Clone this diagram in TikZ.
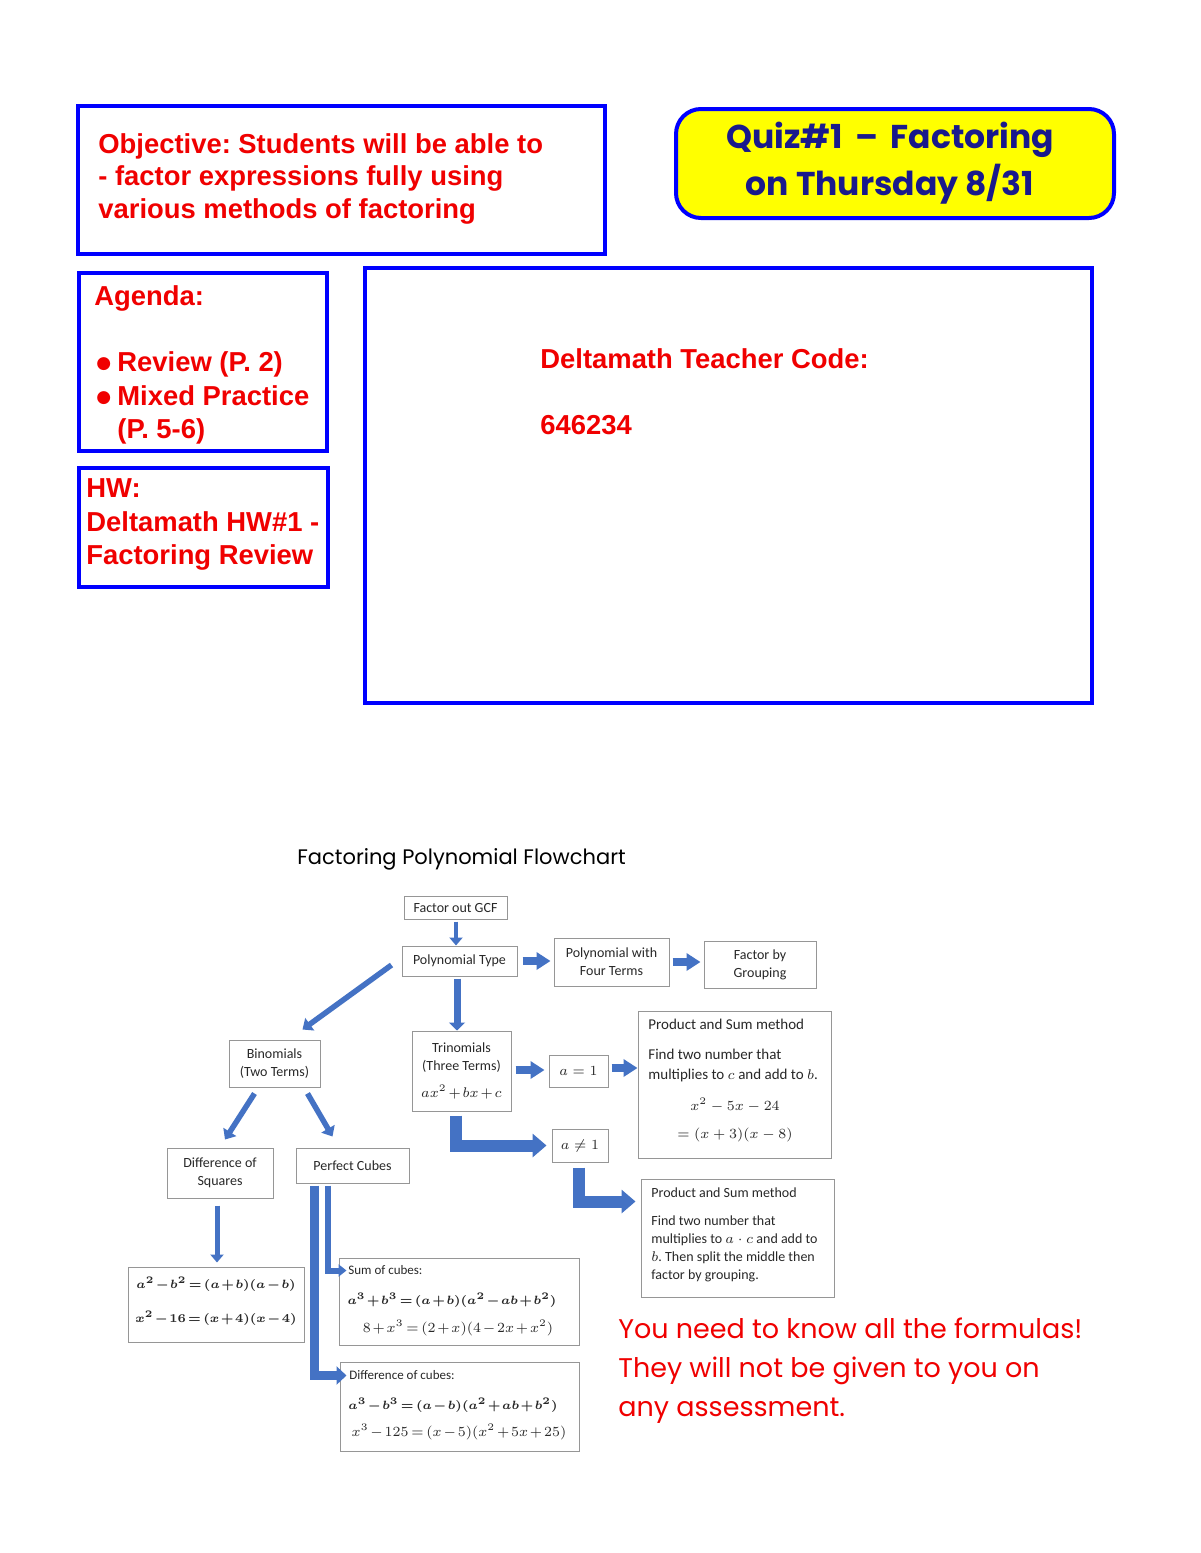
\documentclass[tikz,border=0pt]{standalone}
\usepackage{fontspec}
\usepackage{amsmath}
\setmainfont{Liberation Sans}
\newfontfamily\calib{Carlito}
\newfontfamily\comic{Poppins}
\newfontfamily\dejavu{DejaVu Sans}
\usetikzlibrary{arrows.meta,calc}
\frenchspacing
\definecolor{boxblue}{RGB}{0,0,255}
\definecolor{txtred}{RGB}{240,0,0}
\definecolor{quiznavy}{RGB}{25,25,140}
\definecolor{quizyellow}{RGB}{255,255,0}
\definecolor{fcblue}{RGB}{68,114,196}
\definecolor{fcgray}{RGB}{150,150,150}
\definecolor{fctext}{RGB}{40,40,40}
\newcommand{\tightmath}{\medmuskip=2mu\thickmuskip=3mu}
\newcommand{\tightermath}{\medmuskip=1.5mu\thickmuskip=2.5mu}
\tikzset{
  sz/.style 2 args={minimum width={#1*0.5pt}, minimum height={#2*0.5pt}},
  bluebox/.style={draw=boxblue, line width=2pt, inner sep=0pt},
  redtxt/.style={text=txtred, font=\fontsize{13.7}{16}\selectfont\bfseries, inner sep=0pt, anchor=base west},
  fcbox/.style={draw=fcgray, line width=0.5pt, fill=white, text=fctext, font=\calib\fontsize{7}{9}\selectfont, align=center, inner sep=0pt},
  fctxt/.style={text=fctext, font=\calib\fontsize{7}{9}\selectfont, inner sep=0pt, anchor=base west},
  fcmath/.style={text=fctext, font=\fontsize{6.7}{9}\selectfont\tightmath, inner sep=0pt},
  fcbold/.style={text=fctext, font=\fontsize{6}{9}\selectfont\boldmath\tightermath, inner sep=0pt},
  arrA/.style={draw=fcblue, line width=2pt, -{Triangle[length=4pt,width=6.5pt]}},
  arrB/.style={draw=fcblue, line width=2.75pt, -{Triangle[length=4.5pt,width=7.5pt]}},
  arrC/.style={draw=fcblue, line width=3.5pt, -{Triangle[length=4pt,width=8pt]}},
  blockarr/.style={draw=fcblue, line width=4pt, -{Triangle[length=7pt,width=8.5pt]}},
  elbowarr/.style={draw=fcblue, line width=6pt, line join=miter, -{Triangle[length=7pt,width=11.5pt]}},
  cubeA/.style={draw=fcblue, line width=3pt, line join=miter, -{Triangle[length=4pt,width=6pt]}},
  cubeB/.style={draw=fcblue, line width=4.5pt, line join=miter, -{Triangle[length=5pt,width=9pt]}}
}
\begin{document}
\begin{tikzpicture}[x=0.5pt,y=-0.5pt]
\fill[white] (0,0) rectangle (1200,1553);
\useasboundingbox (0,0) rectangle (1200,1553);

% ---------- top boxes ----------
\node[bluebox, sz={527}{148}] (objbox) at (341.5,180) {};
\node[redtxt] (obj1) at (98,153) {Objective: Students will be able to};
\node[redtxt] (obj2) at (98,185.5) {- factor expressions fully using};
\node[redtxt] (obj3) at (98,218) {various methods of factoring};

\node[draw=boxblue, line width=2pt, fill=quizyellow, rounded corners=12.5pt, sz={438}{109}] (quiz) at (895,163.5) {};
\node[text=quiznavy, font=\comic\bfseries\fontsize{16.5}{23.5}\selectfont, align=center, inner sep=0pt] (quiztxt) at (890,163.5)
      {Quiz\#1 \,–\, Factoring\\on Thursday 8/31};

\node[bluebox, sz={248}{178}] (agbox) at (203,362) {};
\node[redtxt] (ag1) at (94,305) {Agenda:};
\node[redtxt, font=\dejavu\fontsize{8.5}{10}\selectfont] (agb1) at (96,368) {●};
\node[redtxt] (ag2) at (117,371) {Review (P. 2)};
\node[redtxt, font=\dejavu\fontsize{8.5}{10}\selectfont] (agb2) at (96,402) {●};
\node[redtxt] (ag3) at (117,405) {Mixed Practice};
\node[redtxt] (ag4) at (117,438) {(P. 5-6)};

\node[bluebox, sz={249}{119}] (hwbox) at (203.5,527.5) {};
\node[redtxt] (hw1) at (86,497) {HW:};
\node[redtxt] (hw2) at (86,531) {Deltamath HW\#1 -};
\node[redtxt] (hw3) at (86,564) {Factoring Review};

\node[bluebox, sz={727}{435}] (bigbox) at (728.5,485.5) {};
\node[redtxt] (dm1) at (540,368) {Deltamath Teacher Code:};
\node[redtxt] (dm2) at (540,434) {646234};

% ---------- flowchart ----------
\node[anchor=west, inner sep=0pt, font=\comic\fontsize{10.5}{12}\selectfont, text=black] (title) at (297,859) {Factoring Polynomial Flowchart};

\node[fcbox, sz={103}{23}] (gcf) at (455.5,907.5) {Factor out GCF};
\node[fcbox, sz={115}{30}] (ptype) at (459.5,961) {Polynomial Type};
\node[fcbox, sz={115}{48}] (four) at (611.5,962) {Polynomial with\\Four Terms};
\node[fcbox, sz={112}{47}] (group) at (760,964.5) {Factor by\\Grouping};
\node[fcbox, sz={193}{147}] (ps1) at (734.5,1084.5) {};
\node[fcbox, sz={91}{47}] (binom) at (274.5,1063.5) {Binomials\\(Two Terms)};
\node[fcbox, sz={99}{80}] (trinom) at (461.5,1071) {Trinomials\\(Three Terms)\\[4.5pt]{\fontsize{7}{9}\selectfont\tightmath$ax^2+bx+c$}};
\node[fcbox, sz={59}{32}] (aone) at (578.5,1071) {\fontsize{7}{9}\selectfont$a=1$};
\node[fcbox, sz={56}{33}] (aneq) at (580,1145.5) {\fontsize{7}{9}\selectfont$a\neq 1$};
\node[fcbox, sz={106}{50}] (diffsq) at (220,1173) {Difference of\\Squares};
\node[fcbox, sz={113}{35}] (pcubes) at (352.5,1165.5) {Perfect Cubes};
\node[fcbox, sz={193}{118}] (ps2) at (737.5,1238) {};
\node[fcbox, sz={176}{75}] (dsqf) at (216,1304.5) {};
\node[fcbox, sz={240}{87}] (sumc) at (459,1301.5) {};
\node[fcbox, sz={239}{89}] (difc) at (459.5,1406.5) {};

% texts of product and sum boxes
\node[fctxt, font=\calib\fontsize{7.5}{9}\selectfont] (ps1a) at (648,1029) {Product and Sum method};
\node[fctxt, font=\calib\fontsize{7.5}{9}\selectfont] (ps1b) at (648,1059) {Find two number that};
\node[fctxt, font=\calib\fontsize{7.5}{9}\selectfont] (ps1c) at (648,1079) {multiplies to $c$ and add to $b$.};
\node[fcmath, font=\fontsize{7.5}{9}\selectfont] (ps1d) at (735,1105) {$x^2-5x-24$};
\node[fcmath, font=\fontsize{7.5}{9}\selectfont] (ps1e) at (735,1135) {$=(x+3)(x-8)$};

\node[fctxt] (ps2a) at (651,1197) {Product and Sum method};
\node[fctxt] (ps2b) at (651,1225) {Find two number that};
\node[fctxt] (ps2c) at (651,1243) {multiplies to $a\cdot c$ and add to};
\node[fctxt] (ps2d) at (651,1261) {$b$. Then split the middle then};
\node[fctxt] (ps2e) at (651,1279) {factor by grouping.};

\node[fcbold] (dsq1) at (216,1284) {$a^2-b^2=(a+b)(a-b)$};
\node[fcbold] (dsq2) at (216,1318) {$x^2-16=(x+4)(x-4)$};

\node[fctxt, font=\calib\fontsize{6.5}{8}\selectfont] (sc0) at (348,1274.5) {Sum of cubes:};
\node[fcbold] (sc1) at (452,1300) {$a^3+b^3=(a+b)(a^2-ab+b^2)$};
\node[fcmath] (sc2) at (458,1328) {$8+x^3=(2+x)(4-2x+x^2)$};

\node[fctxt, font=\calib\fontsize{6.5}{8}\selectfont] (dc0) at (349,1379.5) {Difference of cubes:};
\node[fcbold] (dc1) at (453,1405) {$a^3-b^3=(a-b)(a^2+ab+b^2)$};
\node[fcmath] (dc2) at (459,1432) {$x^3-125=(x-5)(x^2+5x+25)$};

% ---------- connectors ----------
\draw[arrA] ($(gcf.south)+(0.5,2)$) coordinate (g1) -- (g1 |- ptype.north);
\draw[arrC] ($(ptype.south)+(-2.5,2)$) coordinate (t1) -- (t1 |- trinom.north);
\draw[blockarr] ($(ptype.east)+(5,0)$) -- ($(ptype.east -| four.west)+(-3,0)$);
\draw[blockarr] ($(four.east)+(3,0)$) -- ($(four.east -| group.west)+(-3,0)$);
\draw[blockarr] ($(trinom.east)+(4,-1)$) -- ($(trinom.east -| aone.west)+(-4,-1)$);
\draw[blockarr] ($(aone.east)+(3,-3)$) -- ($(aone.east -| ps1.west)+(0,-3)$);
\draw[elbowarr] ($(trinom.south)+(-5.5,4)$) |- ($(aneq.west)+(-5,0)$);
\draw[elbowarr] ($(aneq.south)+(-1,5)$) |- ($(ps2.north west)+(-5,23)$);
\draw[arrB] ($(ptype.west)+(-10,4)$) -- ($(binom.north east)+(-18,-10)$);
\draw[arrB] ($(binom.south west)+(26,6)$) -- ($(diffsq.north)+(5,-8)$);
\draw[arrB] ($(binom.south east)+(-13,6)$) -- ($(pcubes.north west)+(37,-11)$);
\draw[arrA, line width=2.5pt] ($(diffsq.south)+(-3,7)$) -- ($(dsqf.north)+(1,-4)$);
\draw[cubeA] ($(pcubes.south west)+(32.5,2)$) |- ($(sumc.north west)+(8,13)$);
\draw[cubeB] ($(pcubes.south west)+(18.5,2)$) |- ($(difc.north west)+(7,14)$);

% ---------- note ----------
\node[anchor=west, inner sep=0pt, align=left, text=txtred, font=\comic\fontsize{13.5}{19.5}\selectfont] (note) at (618,1371)
  {You need to know all the formulas!\\They will not be given to you on\\any assessment.};
\end{tikzpicture}
\end{document}
